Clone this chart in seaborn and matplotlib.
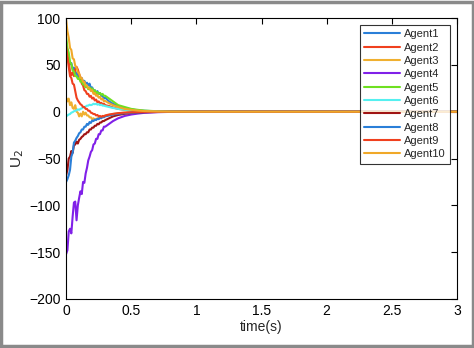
import numpy as np
import pandas as pd
import matplotlib
matplotlib.use("Agg")
import matplotlib.pyplot as plt
import seaborn as sns
from matplotlib.patches import Rectangle

# ---- data ----
t = [0.00, 0.01, 0.02, 0.03, 0.04, 0.05, 0.06, 0.07, 0.08, 0.09,
     0.10, 0.11, 0.12, 0.13, 0.14, 0.15, 0.16, 0.17, 0.18, 0.19,
     0.20, 0.21, 0.22, 0.23, 0.24, 0.25, 0.26, 0.27, 0.28, 0.29,
     0.30, 0.33, 0.36, 0.40, 0.45, 0.50, 0.55, 0.60, 0.70, 0.80,
     1.00, 3.00]

agent1 = [62, 56, 57, 51, 52, 46, 47, 41, 42, 37, 38, 34, 36, 32, 33, 30, 31, 28, 30, 25,
          26, 23, 23, 20, 22, 19, 20, 17, 17, 14, 15, 11, 8.5, 6, 4, 2.5, 1.5, 1, 0.4, 0.2, 0, 0]
agent2 = [75, 60, 53, 43, 39, 42, 38, 45, 48, 45, 40, 37, 30, 28, 23, 22, 19, 19, 16, 17,
          14, 15, 12, 13, 10, 11, 9, 9.5, 8, 8.5, 7, 6, 4.5, 3, 2, 1.2, 0.7, 0.4, 0.2, 0.1, 0, 0]
agent3 = [15, 11, 14, 7, 10, 4, 3, 7, 0, -1, -5, -2, -5, 0, -3, -1, -4, -4, -6, -6,
          -8, -7, -8.5, -7.5, -7.5, -6.5, -7, -5.5, -6, -4.5, -4.5, -3.5, -2.5, -1.7, -1, -0.6, -0.4, -0.2, -0.1, 0, 0, 0]
agent4 = [-152, -148, -128, -125, -130, -112, -97, -96, -116, -100, -92, -85, -88, -75, -76, -66, -60, -52, -48, -43,
          -41, -35, -34, -29, -29, -24, -24, -20, -20, -16, -16, -13, -10, -7, -4.5, -3, -2, -1.2, -0.5, -0.2, 0, 0]
agent5 = [80, 68, 63, 53, 51, 44, 43, 38, 38, 35, 36, 32, 33, 29, 29, 26, 27, 24, 26, 23,
          25, 22, 23, 20, 21, 19, 20, 18, 19, 17, 17, 14, 11, 7, 5, 3, 2, 1.2, 0.5, 0.2, 0, 0]
agent6 = [-5, -4, -3, -2.5, -1, -0.5, 0.5, 1, 1.5, 2.5, 2, 3, 3.5, 4.5, 5, 5.5, 6.5, 6.5, 7.5, 7,
          7.5, 8.5, 8, 8.5, 7.5, 8, 7, 7.5, 6.5, 6.5, 6, 5, 4, 3, 2, 1.3, 0.8, 0.5, 0.2, 0.1, 0, 0]
agent7 = [-68, -62, -50, -48, -42, -44, -36, -35, -32, -34, -30, -29, -27, -26, -24, -24, -22, -22, -19, -19,
          -17, -17, -15, -15, -13, -13.5, -11.5, -11.5, -10, -10, -9, -7, -5, -3.5, -2.2, -1.4, -0.9, -0.6, -0.3, -0.1, 0, 0]
agent8 = [-75, -72, -68, -62, -48, -44, -33, -31, -28, -26, -23, -22, -19, -19, -16, -16, -13, -14, -11, -12,
          -9.5, -10, -8.5, -9, -7.5, -8, -6.5, -7, -5.5, -6, -5, -4, -3, -2.2, -1.5, -1, -0.7, -0.4, -0.2, -0.1, 0, 0]
agent9 = [70, 58, 48, 38, 36, 30, 29, 22, 15, 12, 10, 8, 7, 5, 5, 3, 3, 1, 1, -1,
          -1.5, -2.5, -2.5, -4, -3.5, -5, -4.5, -5.5, -4.5, -5, -4, -3, -2.3, -1.5, -1, -0.6, -0.4, -0.2, -0.1, 0, 0, 0]
agent10 = [98, 86, 79, 68, 66, 57, 56, 49, 47, 42, 41, 36, 36, 32, 32, 28, 28, 25, 25, 22,
           23, 19, 20, 17, 18, 15, 16, 13, 14, 11, 11.5, 9, 7, 5, 3, 2, 1.2, 0.7, 0.3, 0.1, 0, 0]

labels = ["Agent1", "Agent2", "Agent3", "Agent4", "Agent5",
          "Agent6", "Agent7", "Agent8", "Agent9", "Agent10"]
series = [agent1, agent2, agent3, agent4, agent5, agent6, agent7, agent8, agent9, agent10]
colors = ["#2a7fd8", "#f0401e", "#f0b030", "#8020e8", "#6ee020",
          "#55f0f0", "#a01414", "#2a7fd8", "#f0401e", "#f0a828"]

xticks = [0, 0.5, 1, 1.5, 2, 2.5, 3]
yticks = [-200, -150, -100, -50, 0, 50, 100]

df = pd.concat([pd.DataFrame({"t": t, "u": s, "Agent": lab})
                for lab, s in zip(labels, series)], ignore_index=True)

sns.set_style("white")
plt.rcParams["font.family"] = ["Liberation Sans", "DejaVu Sans"]

fig = plt.figure(figsize=(4.74, 3.48), dpi=100)
ax = fig.add_axes([0.1395, 0.141, 0.8245, 0.807])

sns.lineplot(data=df, x="t", y="u", hue="Agent", hue_order=labels,
             palette=colors, linewidth=1.5, ax=ax, estimator=None, sort=False)

ax.set_xlim(0, 3)
ax.set_ylim(-200, 100)
ax.set_xticks(xticks)
ax.set_xticklabels(["0", "0.5", "1", "1.5", "2", "2.5", "3"])
ax.set_yticks(yticks)
ax.tick_params(direction="in", length=4, width=0.8, top=True, right=True,
               labelsize=10, colors="black", pad=4)
for sp in ax.spines.values():
    sp.set_color("black")
    sp.set_linewidth(0.8)
ax.set_xlabel("time(s)", fontsize=10, labelpad=1)
ax.set_ylabel("U$_2$", fontsize=11, labelpad=2)

leg = ax.legend(loc="upper right", fontsize=8, handlelength=3.2,
                labelspacing=0.3, borderaxespad=0.6, handletextpad=0.4,
                borderpad=0.4, frameon=True, fancybox=False)
leg.get_frame().set_edgecolor("black")
leg.get_frame().set_linewidth(0.8)
for line in leg.get_lines():
    line.set_linewidth(1.5)

# outer gray frame of the picture
fig.patches.append(Rectangle((0.003, 0.005), 0.994, 0.99, transform=fig.transFigure,
                             fill=False, edgecolor="#8a8a8a", linewidth=2.5))

fig.savefig("out.png", dpi=100)
